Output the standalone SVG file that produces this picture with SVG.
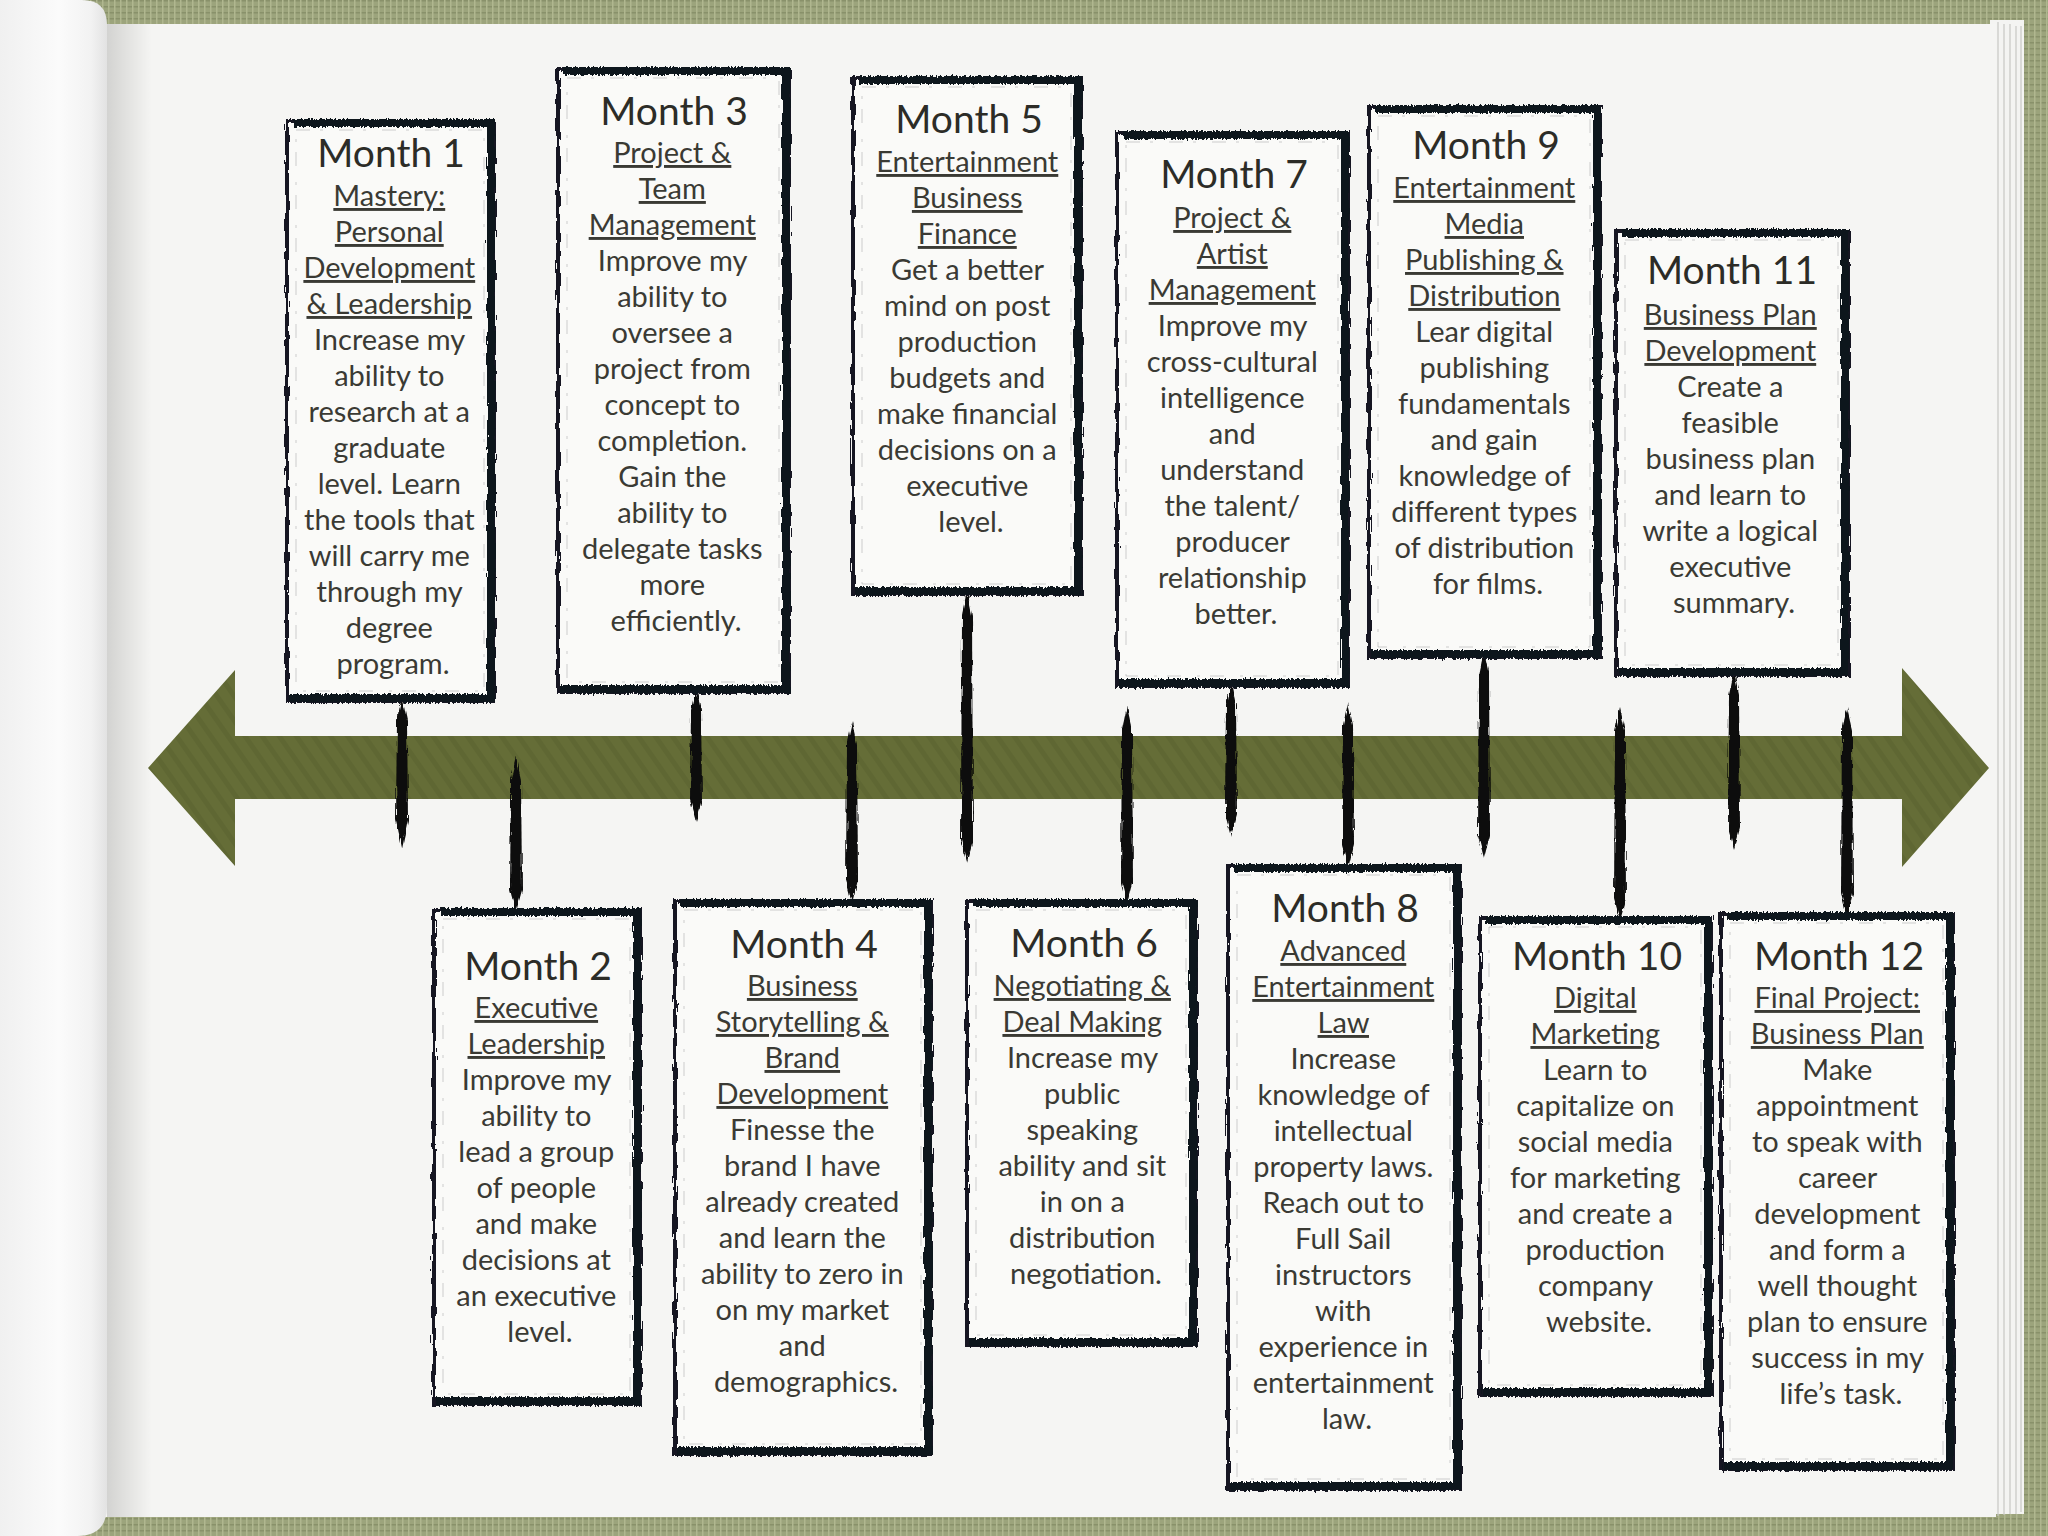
<svg xmlns="http://www.w3.org/2000/svg" width="2048" height="1536" viewBox="0 0 2048 1536">
<defs>
<pattern id="linen" width="6" height="6" patternUnits="userSpaceOnUse">
<rect width="6" height="6" fill="#9ca47c"/>
<rect width="6" height="1.5" fill="#89916a"/>
<rect width="1.5" height="6" fill="#b0b78f"/>
</pattern>
<linearGradient id="curl" x1="0" y1="0" x2="1" y2="0">
<stop offset="0" stop-color="#f0f0f0"/>
<stop offset="0.55" stop-color="#fbfbfb"/>
<stop offset="0.85" stop-color="#f2f2f2"/>
<stop offset="1" stop-color="#e2e2e2"/>
</linearGradient>
<linearGradient id="gutter" x1="0" y1="0" x2="1" y2="0">
<stop offset="0" stop-color="#000" stop-opacity="0.14"/>
<stop offset="1" stop-color="#000" stop-opacity="0"/>
</linearGradient>
<pattern id="hatch" width="14" height="14" patternUnits="userSpaceOnUse" patternTransform="rotate(-35)">
<rect width="14" height="14" fill="#656d37"/>
<rect width="5" height="14" fill="#5f6733"/>
</pattern>
<filter id="rough" x="-5%" y="-5%" width="110%" height="110%">
<feTurbulence type="fractalNoise" baseFrequency="0.6 0.06" numOctaves="2" seed="4" result="n"/>
<feDisplacementMap in="SourceGraphic" in2="n" scale="5" xChannelSelector="R" yChannelSelector="G"/>
</filter>
<style>
.frame{fill:#fafaf8;stroke:#121822;stroke-width:4;filter:url(#rough)}
.heavy{fill:none;stroke:#10151c;stroke-width:8;filter:url(#rough)}
.inner{fill:none;stroke:#666;stroke-width:1;stroke-dasharray:14 10 3 16;opacity:0.3}
.conn{fill:#0a0a0a;filter:url(#rough)}
.t{font-family:Lato,"Open Sans","Liberation Sans",sans-serif;font-size:39px;fill:#2c2c27;text-anchor:middle}
.b{font-family:Lato,"Open Sans","Liberation Sans",sans-serif;font-size:29px;fill:#3a3a34;text-anchor:middle}
.u{text-decoration:underline}
</style>
</defs>

<!-- background -->
<rect width="2048" height="1536" fill="url(#linen)"/>
<rect x="1990" y="20" width="34" height="1494" fill="#f4f4f2"/>
<g stroke="#c6c6c3" stroke-width="1.2" fill="none">
<line x1="1998" y1="22" x2="1998" y2="1516"/>
<line x1="2004" y1="24" x2="2004" y2="1515"/>
<line x1="2010" y1="24" x2="2010" y2="1514"/>
<line x1="2016" y1="26" x2="2016" y2="1514"/>
<line x1="2021" y1="26" x2="2021" y2="1512"/>
</g>
<rect x="100" y="24" width="1896" height="1493" fill="#f5f5f3"/>
<rect x="107" y="24" width="45" height="1493" fill="url(#gutter)"/>
<path d="M0 0 H82 Q107 0 107 25 V1506 Q107 1536 77 1536 H0 Z" fill="url(#curl)"/>

<!-- timeline arrow -->
<polygon id="timeline" points="148,768 235,670 235,736 1902,736 1902,668 1989,768 1902,867 1902,799 235,799 235,866" fill="url(#hatch)"/>

<!-- connectors -->
<g id="connectors">
<polygon class="conn" points="402,696 407,720 408,820 402,848 396,820 397,720"/>
<polygon class="conn" points="516,756 521,780 522,890 516,912 510,890 511,780"/>
<polygon class="conn" points="696,688 701,710 702,800 696,822 690,800 691,710"/>
<polygon class="conn" points="852,722 857,745 858,880 852,903 846,880 847,745"/>
<polygon class="conn" points="967,590 972,615 973,840 967,862 961,840 962,615"/>
<polygon class="conn" points="1127,706 1132,730 1133,880 1127,903 1121,880 1122,730"/>
<polygon class="conn" points="1231,682 1236,705 1237,815 1231,837 1225,815 1226,705"/>
<polygon class="conn" points="1348,703 1353,725 1354,845 1348,868 1342,845 1343,725"/>
<polygon class="conn" points="1484,652 1489,675 1490,835 1484,858 1478,835 1479,675"/>
<polygon class="conn" points="1620,708 1625,730 1626,898 1620,920 1614,898 1615,730"/>
<polygon class="conn" points="1734,671 1739,695 1740,828 1734,850 1728,828 1729,695"/>
<polygon class="conn" points="1847,708 1852,730 1853,893 1847,916 1841,893 1842,730"/>
</g>

<!-- Month 1 -->
<g id="m1">
<rect class="frame" x="287" y="121" width="207" height="580"/>
<path class="heavy" d="M293 123 H491 V698 H289"/>
<rect class="inner" x="296" y="130" width="188" height="561"/>
<text class="t" x="391" y="167">Month 1</text>
<text class="b" transform="translate(3 0)">
<tspan class="u" x="390" y="206">Mastery:</tspan>
<tspan class="u" x="390" y="242">Personal</tspan>
<tspan class="u" x="390" y="278">Development</tspan>
<tspan class="u" x="390" y="314">&amp; Leadership</tspan>
<tspan x="390" y="350">Increase my</tspan>
<tspan x="390" y="386">ability to</tspan>
<tspan x="390" y="422">research at a</tspan>
<tspan x="390" y="458">graduate</tspan>
<tspan x="390" y="494">level. Learn</tspan>
<tspan x="390" y="530">the tools that</tspan>
<tspan x="390" y="566">will carry me</tspan>
<tspan x="390" y="602">through my</tspan>
<tspan x="390" y="638">degree</tspan>
<tspan x="390" y="674">program.</tspan>
</text>
</g>

<!-- Month 2 -->
<g id="m2">
<rect class="frame" x="434" y="910" width="206" height="494"/>
<path class="heavy" d="M440 912 H637 V1401 H436"/>
<rect class="inner" x="443" y="919" width="187" height="475"/>
<text class="t" x="538" y="980">Month 2</text>
<text class="b" transform="translate(3 0)">
<tspan class="u" x="537" y="1018">Executive</tspan>
<tspan class="u" x="537" y="1054">Leadership</tspan>
<tspan x="537" y="1090">Improve my</tspan>
<tspan x="537" y="1126">ability to</tspan>
<tspan x="537" y="1162">lead a group</tspan>
<tspan x="537" y="1198">of people</tspan>
<tspan x="537" y="1234">and make</tspan>
<tspan x="537" y="1270">decisions at</tspan>
<tspan x="537" y="1306">an executive</tspan>
<tspan x="537" y="1342">level.</tspan>
</text>
</g>

<!-- Month 3 -->
<g id="m3">
<rect class="frame" x="558" y="69" width="231" height="623"/>
<path class="heavy" d="M564 71 H786 V689 H560"/>
<rect class="inner" x="567" y="78" width="212" height="604"/>
<text class="t" x="674" y="125">Month 3</text>
<text class="b" transform="translate(3 0)">
<tspan class="u" x="673" y="163">Project &amp;</tspan>
<tspan class="u" x="673" y="199">Team</tspan>
<tspan class="u" x="673" y="235">Management</tspan>
<tspan x="673" y="271">Improve my</tspan>
<tspan x="673" y="307">ability to</tspan>
<tspan x="673" y="343">oversee a</tspan>
<tspan x="673" y="379">project from</tspan>
<tspan x="673" y="415">concept to</tspan>
<tspan x="673" y="451">completion.</tspan>
<tspan x="673" y="487">Gain the</tspan>
<tspan x="673" y="523">ability to</tspan>
<tspan x="673" y="559">delegate tasks</tspan>
<tspan x="673" y="595">more</tspan>
<tspan x="673" y="631">efficiently.</tspan>
</text>
</g>

<!-- Month 4 -->
<g id="m4">
<rect class="frame" x="675" y="901" width="256" height="553"/>
<path class="heavy" d="M681 903 H928 V1451 H677"/>
<rect class="inner" x="684" y="910" width="237" height="534"/>
<text class="t" x="804" y="958">Month 4</text>
<text class="b" transform="translate(3 0)">
<tspan class="u" x="803" y="996">Business</tspan>
<tspan class="u" x="803" y="1032">Storytelling &amp;</tspan>
<tspan class="u" x="803" y="1068">Brand</tspan>
<tspan class="u" x="803" y="1104">Development</tspan>
<tspan x="803" y="1140">Finesse the</tspan>
<tspan x="803" y="1176">brand I have</tspan>
<tspan x="803" y="1212">already created</tspan>
<tspan x="803" y="1248">and learn the</tspan>
<tspan x="803" y="1284">ability to zero in</tspan>
<tspan x="803" y="1320">on my market</tspan>
<tspan x="803" y="1356">and</tspan>
<tspan x="803" y="1392">demographics.</tspan>
</text>
</g>

<!-- Month 5 -->
<g id="m5">
<rect class="frame" x="853" y="78" width="228" height="516"/>
<path class="heavy" d="M859 80 H1078 V591 H855"/>
<rect class="inner" x="862" y="87" width="209" height="497"/>
<text class="t" x="969" y="133">Month 5</text>
<text class="b" transform="translate(3 0)">
<tspan class="u" x="968" y="172">Entertainment</tspan>
<tspan class="u" x="968" y="208">Business</tspan>
<tspan class="u" x="968" y="244">Finance</tspan>
<tspan x="968" y="280">Get a better</tspan>
<tspan x="968" y="316">mind on post</tspan>
<tspan x="968" y="352">production</tspan>
<tspan x="968" y="388">budgets and</tspan>
<tspan x="968" y="424">make financial</tspan>
<tspan x="968" y="460">decisions on a</tspan>
<tspan x="968" y="496">executive</tspan>
<tspan x="968" y="532">level.</tspan>
</text>
</g>

<!-- Month 6 -->
<g id="m6">
<rect class="frame" x="967" y="901" width="229" height="444"/>
<path class="heavy" d="M973 903 H1193 V1342 H969"/>
<rect class="inner" x="976" y="910" width="210" height="425"/>
<text class="t" x="1084" y="957">Month 6</text>
<text class="b" transform="translate(3 0)">
<tspan class="u" x="1083" y="996">Negotiating &amp;</tspan>
<tspan class="u" x="1083" y="1032">Deal Making</tspan>
<tspan x="1083" y="1068">Increase my</tspan>
<tspan x="1083" y="1104">public</tspan>
<tspan x="1083" y="1140">speaking</tspan>
<tspan x="1083" y="1176">ability and sit</tspan>
<tspan x="1083" y="1212">in on a</tspan>
<tspan x="1083" y="1248">distribution</tspan>
<tspan x="1083" y="1284">negotiation.</tspan>
</text>
</g>

<!-- Month 7 -->
<g id="m7">
<rect class="frame" x="1117" y="133" width="231" height="553"/>
<path class="heavy" d="M1123 135 H1345 V683 H1119"/>
<rect class="inner" x="1126" y="142" width="212" height="534"/>
<text class="t" x="1234" y="188">Month 7</text>
<text class="b" transform="translate(3 0)">
<tspan class="u" x="1233" y="228">Project &amp;</tspan>
<tspan class="u" x="1233" y="264">Artist</tspan>
<tspan class="u" x="1233" y="300">Management</tspan>
<tspan x="1233" y="336">Improve my</tspan>
<tspan x="1233" y="372">cross-cultural</tspan>
<tspan x="1233" y="408">intelligence</tspan>
<tspan x="1233" y="444">and</tspan>
<tspan x="1233" y="480">understand</tspan>
<tspan x="1233" y="516">the talent/</tspan>
<tspan x="1233" y="552">producer</tspan>
<tspan x="1233" y="588">relationship</tspan>
<tspan x="1233" y="624">better.</tspan>
</text>
</g>

<!-- Month 8 -->
<g id="m8">
<rect class="frame" x="1228" y="866" width="232" height="623"/>
<path class="heavy" d="M1234 868 H1457 V1486 H1230"/>
<rect class="inner" x="1237" y="875" width="213" height="604"/>
<text class="t" x="1345" y="922">Month 8</text>
<text class="b" transform="translate(3 0)">
<tspan class="u" x="1344" y="961">Advanced</tspan>
<tspan class="u" x="1344" y="997">Entertainment</tspan>
<tspan class="u" x="1344" y="1033">Law</tspan>
<tspan x="1344" y="1069">Increase</tspan>
<tspan x="1344" y="1105">knowledge of</tspan>
<tspan x="1344" y="1141">intellectual</tspan>
<tspan x="1344" y="1177">property laws.</tspan>
<tspan x="1344" y="1213">Reach out to</tspan>
<tspan x="1344" y="1249">Full Sail</tspan>
<tspan x="1344" y="1285">instructors</tspan>
<tspan x="1344" y="1321">with</tspan>
<tspan x="1344" y="1357">experience in</tspan>
<tspan x="1344" y="1393">entertainment</tspan>
<tspan x="1344" y="1429">law.</tspan>
</text>
</g>

<!-- Month 9 -->
<g id="m9">
<rect class="frame" x="1369" y="107" width="231" height="550"/>
<path class="heavy" d="M1375 109 H1597 V654 H1371"/>
<rect class="inner" x="1378" y="116" width="212" height="531"/>
<text class="t" x="1486" y="159">Month 9</text>
<text class="b" transform="translate(3 0)">
<tspan class="u" x="1485" y="198">Entertainment</tspan>
<tspan class="u" x="1485" y="234">Media</tspan>
<tspan class="u" x="1485" y="270">Publishing &amp;</tspan>
<tspan class="u" x="1485" y="306">Distribution</tspan>
<tspan x="1485" y="342">Lear digital</tspan>
<tspan x="1485" y="378">publishing</tspan>
<tspan x="1485" y="414">fundamentals</tspan>
<tspan x="1485" y="450">and gain</tspan>
<tspan x="1485" y="486">knowledge of</tspan>
<tspan x="1485" y="522">different types</tspan>
<tspan x="1485" y="558">of distribution</tspan>
<tspan x="1485" y="594">for films.</tspan>
</text>
</g>

<!-- Month 10 -->
<g id="m10">
<rect class="frame" x="1480" y="918" width="231" height="477"/>
<path class="heavy" d="M1486 920 H1708 V1392 H1482"/>
<rect class="inner" x="1489" y="927" width="212" height="458"/>
<text class="t" x="1597" y="970">Month 10</text>
<text class="b" transform="translate(3 0)">
<tspan class="u" x="1596" y="1008">Digital</tspan>
<tspan class="u" x="1596" y="1044">Marketing</tspan>
<tspan x="1596" y="1080">Learn to</tspan>
<tspan x="1596" y="1116">capitalize on</tspan>
<tspan x="1596" y="1152">social media</tspan>
<tspan x="1596" y="1188">for marketing</tspan>
<tspan x="1596" y="1224">and create a</tspan>
<tspan x="1596" y="1260">production</tspan>
<tspan x="1596" y="1296">company</tspan>
<tspan x="1596" y="1332">website.</tspan>
</text>
</g>

<!-- Month 11 -->
<g id="m11">
<rect class="frame" x="1616" y="231" width="232" height="444"/>
<path class="heavy" d="M1622 233 H1845 V672 H1618"/>
<rect class="inner" x="1625" y="240" width="213" height="425"/>
<text class="t" x="1732" y="284">Month 11</text>
<text class="b" transform="translate(3 0)">
<tspan class="u" x="1731" y="325">Business Plan</tspan>
<tspan class="u" x="1731" y="361">Development</tspan>
<tspan x="1731" y="397">Create a</tspan>
<tspan x="1731" y="433">feasible</tspan>
<tspan x="1731" y="469">business plan</tspan>
<tspan x="1731" y="505">and learn to</tspan>
<tspan x="1731" y="541">write a logical</tspan>
<tspan x="1731" y="577">executive</tspan>
<tspan x="1731" y="613">summary.</tspan>
</text>
</g>

<!-- Month 12 -->
<g id="m12">
<rect class="frame" x="1721" y="914" width="232" height="555"/>
<path class="heavy" d="M1727 916 H1950 V1466 H1723"/>
<rect class="inner" x="1730" y="923" width="213" height="536"/>
<text class="t" x="1839" y="970">Month 12</text>
<text class="b" transform="translate(3 0)">
<tspan class="u" x="1838" y="1008">Final Project:</tspan>
<tspan class="u" x="1838" y="1044">Business Plan</tspan>
<tspan x="1838" y="1080">Make</tspan>
<tspan x="1838" y="1116">appointment</tspan>
<tspan x="1838" y="1152">to speak with</tspan>
<tspan x="1838" y="1188">career</tspan>
<tspan x="1838" y="1224">development</tspan>
<tspan x="1838" y="1260">and form a</tspan>
<tspan x="1838" y="1296">well thought</tspan>
<tspan x="1838" y="1332">plan to ensure</tspan>
<tspan x="1838" y="1368">success in my</tspan>
<tspan x="1838" y="1404">life’s task.</tspan>
</text>
</g>
</svg>
